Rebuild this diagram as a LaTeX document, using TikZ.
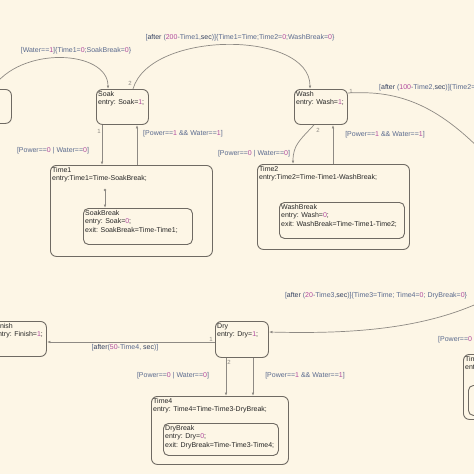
\documentclass[tikz,border=0pt]{standalone}
\usepackage{fontspec}
\setmainfont{Liberation Sans}
\usepackage{tikz}
\usetikzlibrary{arrows.meta}

\definecolor{chartbg}{HTML}{FDF6E6}
\definecolor{stateline}{HTML}{6F6A63}
\definecolor{transline}{HTML}{8E8A84}
\definecolor{labelcol}{HTML}{5A6A8E}
\definecolor{keycol}{HTML}{33405F}
\definecolor{numcol}{HTML}{B04A9E}
\definecolor{textcol}{HTML}{262626}

\newcommand{\nm}[1]{\textcolor{numcol}{#1}}
\newcommand{\kw}[1]{\textcolor{keycol}{#1}}

\tikzset{
    state/.style={draw=stateline, line width=0.9pt, rounded corners=6pt, anchor=north west, inner sep=0pt},
    substate/.style={state, rounded corners=5pt},
    stxt/.style={anchor=north west, align=left, inner sep=2pt, text=textcol, font=\fontsize{7}{8.5}\selectfont},
    tr/.style={draw=transline, line width=0.7pt, -{Latex[length=3.5pt,width=2.6pt]}},
    cond/.style={text=labelcol, font=\fontsize{7}{8.5}\selectfont, inner sep=1pt},
    order/.style={text=transline, font=\fontsize{6}{6}\selectfont, inner sep=1pt}
}

\begin{document}
\begin{tikzpicture}[x=1pt, y=-1pt]
    \fill[chartbg] (0,0) rectangle (474,474);
    \useasboundingbox (0,0) rectangle (474,474);
    \clip (0,0) rectangle (474,474);

    % Nodes
    \node[state, minimum width=61pt, minimum height=34pt] (fill) at (-50,89) {};
    \node[state, minimum width=52pt, minimum height=35pt] (soak) at (96,89) {};
    \node[stxt] (soakT) at (soak.north west) {Soak\\entry: Soak=\nm{1};};
    \node[state, minimum width=53pt, minimum height=35pt] (wash) at (294,89) {};
    \node[stxt] (washT) at (wash.north west) {Wash\\entry: Wash=\nm{1};};

    \node[state, minimum width=162pt, minimum height=91pt] (time1) at (50,165) {};
    \node[stxt] (time1T) at (time1.north west) {Time1\\entry:Time1=Time-SoakBreak;};
    \node[substate, minimum width=109pt, minimum height=36pt] (soakbreak) at (83,208) {};
    \node[stxt] (soakbreakT) at (soakbreak.north west) {SoakBreak\\entry: Soak=\nm{0};\\exit: SoakBreak=Time-Time1;};

    \node[state, minimum width=152pt, minimum height=85pt] (time2) at (257,164) {};
    \node[stxt] (time2T) at (time2.north west) {Time2\\entry:Time2=Time-Time1-WashBreak;};
    \node[substate, minimum width=125pt, minimum height=36pt] (washbreak) at (279,202) {};
    \node[stxt] (washbreakT) at (washbreak.north west) {WashBreak\\entry: Wash=\nm{0};\\exit: WashBreak=Time-Time1-Time2;};

    \node[state, minimum width=54pt, minimum height=35pt] (finish) at (-8,321) {};
    \node[stxt] (finishT) at (finish.north west) {Finish\\entry: Finish=\nm{1};};
    \node[state, minimum width=53pt, minimum height=36pt] (dry) at (215,321) {};
    \node[stxt] (dryT) at (dry.north west) {Dry\\entry: Dry=\nm{1};};

    \node[state, minimum width=137pt, minimum height=68pt] (time4) at (151,396) {};
    \node[stxt] (time4T) at (time4.north west) {Time4\\entry: Time4=Time-Time3-DryBreak;};
    \node[substate, minimum width=115pt, minimum height=32pt] (drybreak) at (163,423) {};
    \node[stxt] (drybreakT) at (drybreak.north west) {DryBreak\\entry: Dry=\nm{0};\\exit: DryBreak=Time-Time3-Time4;};

    \node[state, minimum width=60pt, minimum height=65pt] (time3) at (463,354) {};
    \node[stxt] (time3T) at (time3.north west) {Time3\\entry:};
    \node[substate, minimum width=50pt, minimum height=30pt] (rinsebreak) at (468,385) {};

    \coordinate (rinsein) at (495,165);
    \coordinate (rinseout) at (495,295);
    \coordinate (dflt1) at (105,190);

    % Arrows
    \draw[tr] ([xshift=42pt]fill.north west) .. controls (20,45) and (108,50) .. ([xshift=12pt]soak.north west);
    \node[cond] (c1) at (76,51) {[Water==\nm{1}]\{Time1=\nm{0};SoakBreak=\nm{0}\}};

    \draw[tr] ([xshift=37pt]soak.north west) .. controls (150,30) and (310,30) .. ([xshift=16pt]wash.north west);
    \node[order] (o2) at (130,83) {2};
    \node[cond] (c2) at (240,38) {[\kw{after} (\nm{200}-Time1,\kw{sec})]\{Time1=Time;Time2=\nm{0};WashBreak=\nm{0}\}};

    \draw[tr] ([yshift=-4pt]wash.north east) .. controls (400,90) and (440,105) .. (rinsein);
    \node[order] (o3) at (351,91) {1};
    \node[cond, anchor=west] (c3) at (378,88) {[\kw{after} (\nm{100}-Time2,\kw{sec})]\{Time2=};

    \draw[tr] ([xshift=6pt]soak.south west) -- ([xshift=6pt]soak.south west |- time1.north);
    \node[order] (o4) at (99,131) {1};
    \node[cond] (c4) at (53,151) {[Power==\nm{0} | Water==\nm{0}]};
    \draw[tr] ([xshift=87pt]time1.north west) -- ([xshift=87pt]time1.north west |- soak.south);
    \node[cond] (c5) at (183,134) {[Power==\nm{1} \&\& Water==\nm{1}]};

    \fill[transline] (dflt1) circle (1.3pt);
    \draw[tr] (dflt1) -- (dflt1 |- soakbreak.north);

    \draw[tr] ([xshift=20pt]wash.south west) .. controls (300,140) and (293,145) .. ([xshift=36pt]time2.north west);
    \node[order] (o6) at (318,130) {2};
    \node[cond] (c6) at (254,154) {[Power==\nm{0} | Water==\nm{0}]};
    \draw[tr] ([xshift=76pt]time2.north west) -- ([xshift=76pt]time2.north west |- wash.south);
    \node[cond] (c7) at (385,135) {[Power==\nm{1} \&\& Water==\nm{1}]};

    \draw[tr] (rinseout) .. controls (430,330) and (350,334) .. ([yshift=-11pt]dry.north east);
    \node[cond] (c8) at (376,296) {[\kw{after} (\nm{20}-Time3,\kw{sec})]\{Time3=Time; Time4=\nm{0}; DryBreak=\nm{0}\}};

    \draw[tr] ([yshift=-21pt]dry.north west) -- ([yshift=-21pt]dry.north west -| finish.east);
    \node[order] (o9) at (211,339) {1};
    \node[cond] (c9) at (125,348) {[\kw{after}(\nm{50}-Time4, \kw{sec})]};

    \draw[tr] ([xshift=11pt]dry.south west) -- ([xshift=11pt]dry.south west |- time4.north);
    \node[order] (o10) at (229,362) {2};
    \node[cond] (c10) at (173,376) {[Power==\nm{0} | Water==\nm{0}]};
    \draw[tr] ([xshift=38pt]dry.south west) -- ([xshift=38pt]dry.south west |- time4.north);
    \node[cond] (c11) at (305,376) {[Power==\nm{1} \&\& Water==\nm{1}]};

    \node[cond, anchor=west] (c12) at (437,340) {[Power==\nm{0} | Water==\nm{0}]};
\end{tikzpicture}
\end{document}
